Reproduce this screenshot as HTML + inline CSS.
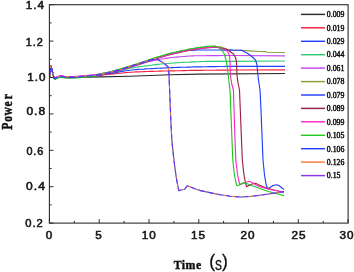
<!DOCTYPE html>
<html><head><meta charset="utf-8"><title>Power vs Time</title>
<style>html,body{margin:0;padding:0;background:#fff}svg{display:block}</style></head>
<body>
<svg width="354" height="272" viewBox="0 0 354 272">
<defs><filter id="bl" x="-5%" y="-5%" width="110%" height="110%"><feGaussianBlur stdDeviation="0.35"/></filter></defs>
<rect width="354" height="272" fill="#fff"/>
<g filter="url(#bl)">
<g>
<polyline points="50.0,77.0 50.3,70.0 50.8,66.0 51.5,68.0 52.5,72.1 54.0,78.2 55.0,78.9 57.0,77.9 59.0,77.1 61.0,76.9 64.0,77.4 70.0,77.6 75.0,77.5 80.0,77.2 88.0,77.1 100.0,76.9 130.0,76.3 170.0,74.7 200.0,74.1 285.0,73.5" fill="none" stroke="#2a2a2a" stroke-width="1.15" stroke-linejoin="round" />
<polyline points="50.0,77.0 50.3,70.0 50.8,66.0 51.5,68.0 52.5,72.1 54.0,78.2 55.0,78.8 57.0,77.8 59.0,77.0 61.0,76.8 64.0,77.3 70.0,77.5 75.0,77.4 80.0,77.1 85.0,76.6 90.0,76.0 95.0,75.4 96.3,75.3 98.0,75.2 100.1,75.1 102.4,74.9 104.9,74.7 107.5,74.5 110.0,74.3 111.8,74.1 113.7,73.9 115.6,73.7 117.6,73.5 119.7,73.3 121.8,73.1 123.8,72.8 125.9,72.6 128.0,72.5 130.0,72.3 132.0,72.2 134.0,72.0 136.0,71.9 138.0,71.8 140.0,71.8 142.0,71.7 144.0,71.6 146.0,71.5 148.0,71.5 150.0,71.4 152.0,71.3 153.8,71.3 155.7,71.2 157.5,71.2 159.4,71.1 161.3,71.1 163.3,71.0 165.4,71.0 167.6,71.0 170.0,70.9 171.7,70.9 173.4,70.8 175.2,70.8 177.0,70.7 178.9,70.7 180.8,70.7 182.8,70.6 184.8,70.6 186.8,70.5 188.9,70.5 191.0,70.4 193.2,70.4 195.4,70.4 197.7,70.3 200.0,70.3 201.8,70.3 203.8,70.3 205.8,70.2 208.0,70.2 210.2,70.2 212.5,70.2 214.9,70.2 217.2,70.1 219.5,70.1 221.9,70.1 224.2,70.1 226.4,70.1 228.6,70.1 230.6,70.1 232.6,70.0 234.4,70.0 236.1,70.0 237.6,70.0 238.9,70.0 240.0,70.0 285.0,69.9" fill="none" stroke="#f5203f" stroke-width="1.15" stroke-linejoin="round" />
<polyline points="50.0,77.0 50.3,70.0 50.8,66.0 51.5,68.0 52.5,72.0 54.0,78.1 55.0,78.7 57.0,77.6 59.0,76.8 61.0,76.6 64.0,77.1 70.0,77.3 75.0,77.2 80.0,76.9 85.0,76.4 90.0,75.9 95.0,75.3 96.3,75.1 98.0,75.0 100.1,74.8 102.4,74.5 104.9,74.3 107.5,73.9 110.0,73.6 111.8,73.3 113.7,73.0 115.6,72.6 117.6,72.3 119.7,71.9 121.8,71.5 123.8,71.1 125.9,70.8 128.0,70.5 130.0,70.2 132.0,70.0 134.0,69.8 136.0,69.6 138.0,69.4 140.0,69.3 142.0,69.2 144.0,69.1 146.0,68.9 148.0,68.8 150.0,68.7 152.0,68.6 153.8,68.5 155.7,68.4 157.5,68.3 159.4,68.2 161.3,68.1 163.3,68.0 165.4,67.9 167.6,67.8 170.0,67.7 171.7,67.6 173.5,67.6 175.4,67.5 177.3,67.4 179.3,67.4 181.3,67.3 183.3,67.2 185.4,67.2 187.5,67.1 189.6,67.1 191.7,67.0 193.8,66.9 195.9,66.9 198.0,66.8 200.0,66.8 202.1,66.8 204.2,66.7 206.5,66.7 208.8,66.6 211.1,66.6 213.4,66.6 215.7,66.6 218.0,66.5 220.2,66.5 222.2,66.5 224.2,66.5 225.9,66.4 227.5,66.4 228.9,66.4 230.0,66.4 285.0,66.3" fill="none" stroke="#2040ff" stroke-width="1.15" stroke-linejoin="round" />
<polyline points="50.0,77.0 50.3,70.0 50.8,66.0 51.5,68.0 52.5,72.2 54.0,78.4 55.0,79.2 57.0,78.2 59.0,77.4 61.0,77.2 64.0,77.7 70.0,77.9 75.0,77.8 80.0,77.5 85.0,76.9 90.0,76.4 95.0,75.7 96.3,75.5 98.0,75.2 100.1,74.8 102.4,74.4 104.9,74.0 107.5,73.5 110.0,73.0 111.8,72.6 113.7,72.2 115.6,71.7 117.6,71.2 119.7,70.7 121.8,70.2 123.8,69.6 125.9,69.2 128.0,68.7 130.0,68.3 132.0,67.9 134.0,67.6 136.0,67.2 138.0,66.9 140.0,66.6 142.0,66.3 144.0,66.1 146.0,65.8 148.0,65.6 150.0,65.3 152.0,65.1 153.8,64.8 155.7,64.6 157.5,64.4 159.4,64.2 161.3,64.0 163.3,63.8 165.4,63.7 167.6,63.5 170.0,63.3 171.7,63.2 173.5,63.0 175.4,62.9 177.3,62.8 179.3,62.7 181.3,62.5 183.3,62.4 185.4,62.3 187.5,62.2 189.6,62.1 191.7,61.9 193.8,61.8 195.9,61.8 198.0,61.7 200.0,61.6 202.1,61.5 204.2,61.5 206.5,61.4 208.8,61.4 211.1,61.4 213.4,61.4 215.7,61.3 218.0,61.3 220.2,61.3 222.2,61.3 224.2,61.3 225.9,61.3 227.5,61.3 228.9,61.3 230.0,61.3 285.0,61.0" fill="none" stroke="#2ec878" stroke-width="1.15" stroke-linejoin="round" />
<polyline points="50.0,77.0 50.3,70.0 50.8,66.0 51.5,68.0 52.5,71.8 54.0,77.6 55.0,78.0 57.0,76.8 59.0,76.0 61.0,75.8 64.0,76.3 70.0,76.5 75.0,76.4 80.0,76.1 85.0,75.7 90.0,75.2 95.0,74.7 96.3,74.5 98.0,74.2 100.1,73.8 102.4,73.4 104.9,72.9 107.5,72.4 110.0,71.8 111.8,71.4 113.7,70.9 115.6,70.4 117.6,69.8 119.7,69.2 121.8,68.7 123.8,68.1 125.9,67.5 128.0,66.9 130.0,66.4 132.0,65.9 134.0,65.3 136.0,64.8 138.0,64.3 140.0,63.7 142.0,63.2 144.0,62.7 146.0,62.2 148.0,61.7 150.0,61.3 152.0,60.9 154.0,60.5 156.0,60.1 158.0,59.7 160.0,59.3 162.0,59.0 164.0,58.7 166.0,58.4 168.0,58.1 170.0,57.8 172.0,57.5 174.2,57.3 176.3,57.1 178.5,56.9 180.6,56.7 182.7,56.5 184.7,56.4 186.6,56.2 188.4,56.1 190.0,56.0 192.3,55.8 193.8,55.8 195.0,55.7 196.9,55.7 200.0,55.7 201.5,55.7 203.2,55.7 205.2,55.7 207.3,55.6 209.6,55.6 212.0,55.6 214.4,55.6 216.8,55.6 219.2,55.6 221.5,55.5 223.6,55.5 225.6,55.5 227.3,55.5 228.8,55.5 230.0,55.5 285.0,55.9" fill="none" stroke="#c845f8" stroke-width="1.15" stroke-linejoin="round" />
<polyline points="50.0,77.0 50.3,70.0 50.8,66.0 51.5,68.0 52.5,72.1 54.0,78.1 55.0,78.8 57.0,77.7 59.0,76.9 61.0,76.7 64.0,77.2 70.0,77.4 75.0,77.3 80.0,77.0 85.0,76.5 90.0,76.0 95.0,75.3 98.0,74.4 101.0,74.0 104.0,73.3 107.0,72.7 110.0,72.0 113.0,71.2 116.0,70.4 119.0,69.6 122.0,68.7 125.0,67.8 128.0,66.8 131.0,65.9 134.0,64.9 137.0,64.0 140.0,63.0 143.0,62.0 146.0,61.0 149.0,60.0 152.0,59.1 155.0,58.1 158.0,57.1 161.0,56.2 164.0,55.3 167.0,54.4 170.0,53.5 173.0,52.8 176.0,52.2 179.0,51.5 182.0,50.8 185.0,50.2 188.0,49.5 191.0,49.0 194.0,48.5 197.0,48.0 200.0,47.6 203.0,47.2 206.0,46.8 209.0,46.6 212.0,46.4 215.0,46.2 215.0,46.3 220.0,46.9 224.0,48.0 228.0,49.8 234.0,50.3 241.5,50.4 250.0,50.9 260.0,51.5 265.5,51.6 267.0,52.3 283.0,52.5 285.0,53.0" fill="none" stroke="#8a9c3a" stroke-width="1.15" stroke-linejoin="round" />
<polyline points="50.0,77.0 50.3,70.0 50.8,66.0 51.5,68.0 52.5,72.0 54.0,77.9 55.0,78.5 57.0,77.4 59.0,76.6 61.0,76.4 64.0,76.9 70.0,77.1 75.0,77.0 80.0,76.7 85.0,76.2 90.0,75.7 95.0,75.1 98.0,74.9 101.0,74.5 104.0,73.8 107.0,73.2 110.0,72.5 113.0,71.7 116.0,70.9 119.0,70.1 122.0,69.2 125.0,68.2 128.0,67.3 131.0,66.4 134.0,65.4 137.0,64.5 140.0,63.5 143.0,62.5 146.0,61.5 149.0,60.5 152.0,59.6 155.0,58.6 158.0,57.6 161.0,56.7 164.0,55.8 167.0,54.9 170.0,54.0 173.0,53.3 176.0,52.7 179.0,52.0 182.0,51.3 184.0,50.9 185.5,50.7 187.7,50.5 190.0,50.3 192.0,50.2 194.2,50.1 197.0,50.0 198.8,50.0 200.7,50.0 202.8,50.0 205.1,50.0 207.5,50.0 210.0,50.0 211.8,50.0 213.8,50.0 215.8,50.0 217.9,50.0 220.0,50.0 222.1,50.1 224.2,50.1 226.2,50.1 228.0,50.1 230.7,50.1 233.3,50.2 235.9,50.2 238.2,50.2 240.1,50.3 241.5,50.3 245.0,52.0 248.6,54.0 253.0,57.5 255.7,60.3 257.0,65.0 257.7,73.5 258.8,82.0 260.0,90.0 261.0,110.0 262.0,135.0 263.0,160.0 264.5,175.0 266.0,184.0 267.4,188.7 270.0,187.5 273.0,185.5 276.3,184.7 279.0,185.5 282.0,188.0 284.0,189.6" fill="none" stroke="#2040ff" stroke-width="1.15" stroke-linejoin="round" />
<polyline points="50.0,77.0 50.3,70.0 50.8,66.0 51.5,68.0 52.5,72.1 54.0,78.2 55.0,78.9 57.0,77.9 59.0,77.1 61.0,76.9 64.0,77.4 70.0,77.6 75.0,77.5 80.0,77.2 85.0,76.7 90.0,76.1 95.0,75.5 98.0,75.5 101.0,75.1 104.0,74.4 107.0,73.8 110.0,73.1 113.0,72.3 116.0,71.5 119.0,70.7 122.0,69.8 125.0,68.8 128.0,67.9 131.0,67.0 134.0,66.0 137.0,65.1 140.0,64.1 143.0,63.1 146.0,62.1 149.0,61.1 152.0,60.2 155.0,59.2 158.0,58.2 161.0,57.3 164.0,56.4 167.0,55.5 170.0,54.6 173.0,53.9 176.0,53.3 179.0,52.6 182.0,51.9 185.0,51.3 188.0,50.6 191.0,50.1 194.0,49.6 197.0,49.1 200.0,48.7 203.0,48.3 206.0,47.9 209.0,47.7 212.0,47.5 215.0,47.3 215.0,47.3 221.0,48.0 226.0,49.0 230.0,51.5 233.4,54.0 235.5,57.5 236.4,61.0 237.0,75.5 238.2,84.0 239.5,90.0 240.5,115.0 241.5,140.0 242.3,160.0 244.0,175.0 245.5,183.0 246.7,186.7 249.0,185.5 252.0,184.0 255.6,183.3 259.0,185.0 265.0,187.5 272.0,189.5 278.0,191.0 284.0,192.0" fill="none" stroke="#9a2440" stroke-width="1.15" stroke-linejoin="round" />
<polyline points="50.0,77.0 50.3,70.0 50.8,66.0 51.5,68.0 52.5,71.9 54.0,77.8 55.0,78.3 57.0,77.1 59.0,76.3 61.0,76.1 64.0,76.6 70.0,76.8 75.0,76.7 80.0,76.4 85.0,75.9 90.0,75.5 95.0,74.9 98.0,75.2 101.0,74.8 104.0,74.1 107.0,73.5 110.0,72.8 113.0,72.0 116.0,71.2 119.0,70.4 122.0,69.5 125.0,68.5 128.0,67.6 131.0,66.7 134.0,65.7 137.0,64.8 140.0,63.8 143.0,62.8 146.0,61.8 149.0,60.8 152.0,59.9 155.0,58.9 158.0,57.9 161.0,57.0 164.0,56.1 167.0,55.2 170.0,54.3 173.0,53.6 176.0,53.0 179.0,52.3 182.0,51.6 185.0,51.0 188.0,50.3 191.0,49.8 194.0,49.3 197.0,48.8 200.0,48.4 203.0,48.0 206.0,47.6 209.0,47.4 212.0,47.2 215.0,47.0 215.0,47.0 220.0,48.0 226.0,50.0 228.0,52.5 229.4,55.0 230.0,62.0 230.4,75.5 231.8,84.0 233.4,90.0 234.2,115.0 235.0,140.0 235.8,160.0 237.5,174.0 238.8,181.0 239.8,184.7 242.0,184.0 245.0,182.5 249.6,181.3 252.0,182.5 256.0,185.0 262.0,187.5 270.0,189.5 278.0,191.0 284.0,192.3" fill="none" stroke="#ff28c8" stroke-width="1.15" stroke-linejoin="round" />
<polyline points="50.0,77.0 50.3,70.0 50.8,66.0 51.5,68.0 52.5,72.2 54.0,78.5 55.0,79.2 57.0,78.3 59.0,77.5 61.0,77.3 64.0,77.8 70.0,78.0 75.0,77.9 80.0,77.6 85.0,77.0 90.0,76.4 95.0,75.8 98.0,74.2 101.0,73.8 104.0,73.1 107.0,72.5 110.0,71.8 113.0,71.0 116.0,70.2 119.0,69.4 122.0,68.5 125.0,67.5 128.0,66.6 131.0,65.7 134.0,64.7 137.0,63.8 140.0,62.8 143.0,61.8 146.0,60.8 149.0,59.8 152.0,58.9 155.0,57.9 158.0,56.9 161.0,56.0 164.0,55.1 167.0,54.2 170.0,53.3 173.0,52.6 176.0,52.0 179.0,51.3 182.0,50.6 185.0,50.0 188.0,49.3 191.0,48.8 194.0,48.3 197.0,47.8 200.0,47.4 203.0,47.0 206.0,46.6 209.0,46.4 212.0,46.2 215.0,46.0 215.0,46.0 219.0,47.3 222.0,50.5 224.3,54.0 226.3,61.0 227.3,68.0 228.3,75.5 229.2,84.0 230.0,90.0 231.0,115.0 232.0,140.0 232.8,160.0 234.3,174.0 235.6,181.0 236.8,185.7 239.0,185.0 241.5,183.5 243.7,182.7 246.0,183.3 249.6,184.7 256.0,187.0 264.0,190.0 272.0,192.5 278.0,194.0 284.0,195.6" fill="none" stroke="#22c822" stroke-width="1.15" stroke-linejoin="round" />
<polyline points="50.0,77.0 50.3,70.0 50.8,66.0 51.5,68.0 52.5,72.0 54.0,78.0 55.0,78.6 57.0,77.5 59.0,76.7 61.0,76.5 64.0,77.0 70.0,77.2 75.0,77.1 80.0,76.8 85.0,76.3 90.0,75.8 95.0,75.2 98.0,74.9 101.0,74.5 104.0,73.8 107.0,73.2 110.0,72.5 113.0,71.7 116.0,70.9 119.0,70.1 122.0,69.2 125.0,68.2 128.0,67.3 131.0,66.4 134.0,65.4 137.0,64.5 140.0,63.5 143.0,62.5 146.0,61.5 149.0,60.5 152.0,59.6 155.0,58.6 158.3,60.0 162.0,62.0 165.0,64.3 168.2,66.7 169.0,75.0 169.6,90.0 170.0,100.0 170.8,120.0 171.8,140.0 173.9,160.0 175.5,172.0 177.0,182.0 178.8,190.6 181.0,190.0 184.8,189.2 186.0,187.3 187.3,185.7 190.0,186.7 195.0,188.8 200.6,190.6 210.0,192.6 220.0,194.7 230.0,196.2 240.0,197.0 250.0,196.5 260.0,195.2 270.0,193.8 278.0,192.6 284.0,191.6" fill="none" stroke="#2040ff" stroke-width="1.15" stroke-linejoin="round" />
<polyline points="50.0,77.0 50.3,70.0 50.8,66.0 51.5,68.0 52.5,71.9 54.0,77.8 55.0,78.4 57.0,77.2 59.0,76.4 61.0,76.2 64.0,76.7 70.0,76.9 75.0,76.8 80.0,76.5 85.0,76.0 90.0,75.6 95.0,75.0 98.0,74.7 101.0,74.3 104.0,73.6 107.0,73.0 110.0,72.3 113.0,71.5 116.0,70.7 119.0,69.9 122.0,69.0 125.0,68.0 128.0,67.1 131.0,66.2 134.0,65.2 137.0,64.3 140.0,63.3 143.0,62.3 146.0,61.3 149.0,60.3 152.0,59.4 155.0,58.4 158.3,59.8 162.0,62.0 165.0,64.3 168.2,66.7 169.0,75.0 169.6,90.0 170.0,100.0 170.8,120.0 171.8,140.0 173.9,160.0 175.5,172.0 177.0,182.0 178.8,190.6 181.0,190.0 184.8,189.2 186.0,187.3 187.3,185.7 190.0,186.7 195.0,188.8 200.6,190.6 210.0,192.6 220.0,194.7 230.0,196.2 240.0,197.0 250.0,196.5 260.0,195.2 270.0,193.8 278.0,192.6 284.0,191.6" fill="none" stroke="#ff7a45" stroke-width="1.15" stroke-linejoin="round" stroke-dasharray="3 6"/>
<polyline points="50.0,77.0 50.3,70.0 50.8,66.0 51.5,68.0 52.5,71.8 54.0,77.6 55.0,78.1 57.0,76.9 59.0,76.1 61.0,75.9 64.0,76.4 70.0,76.6 75.0,76.5 80.0,76.2 85.0,75.8 90.0,75.3 95.0,74.8 98.0,74.5 101.0,74.1 104.0,73.4 107.0,72.8 110.0,72.1 113.0,71.3 116.0,70.5 119.0,69.7 122.0,68.8 125.0,67.8 128.0,66.9 131.0,66.0 134.0,65.0 137.0,64.1 140.0,63.1 143.0,62.1 146.0,61.1 149.0,60.1 152.0,59.2 155.0,58.2 158.3,59.6 162.0,62.0 165.0,64.3 168.2,66.7 169.0,75.0 169.6,90.0 170.0,100.0 170.8,120.0 171.8,140.0 173.9,160.0 175.5,172.0 177.0,182.0 178.8,190.6 181.0,190.0 184.8,189.2 186.0,187.3 187.3,185.7 190.0,186.7 195.0,188.8 200.6,190.6 210.0,192.6 220.0,194.7 230.0,196.2 240.0,197.0 250.0,196.5 260.0,195.2 270.0,193.8 278.0,192.6 284.0,191.6" fill="none" stroke="#8a35e0" stroke-width="1.15" stroke-linejoin="round" stroke-dasharray="3 6" stroke-dashoffset="5"/>
</g>
<rect x="49.4" y="4.7" width="298.7" height="218.4" fill="none" stroke="#2b2b2b" stroke-width="1.1"/>
<path d="M49.4,223.1v-4 M74.3,223.1v-2.2 M99.2,223.1v-4 M124.1,223.1v-2.2 M149.0,223.1v-4 M173.9,223.1v-2.2 M198.8,223.1v-4 M223.6,223.1v-2.2 M248.5,223.1v-4 M273.4,223.1v-2.2 M298.3,223.1v-4 M323.2,223.1v-2.2 M348.1,223.1v-4 M49.4,223.1h4 M49.4,204.9h2.2 M49.4,186.7h4 M49.4,168.5h2.2 M49.4,150.3h4 M49.4,132.1h2.2 M49.4,113.9h4 M49.4,95.7h2.2 M49.4,77.5h4 M49.4,59.3h2.2 M49.4,41.1h4 M49.4,22.9h2.2 M49.4,4.7h4" stroke="#2b2b2b" stroke-width="1" fill="none"/>
<g font-family="'Liberation Sans', sans-serif" font-size="10.0" fill="#1a1a1a" stroke="#1a1a1a" stroke-width="0.55" letter-spacing="0.85">
<text transform="translate(25.3,227.1) scale(1.122,1)">0.2</text>
<text transform="translate(26.1,189.9) scale(1.204,1)">0.4</text>
<text transform="translate(26.4,154.9) scale(1.087,1)">0.6</text>
<text transform="translate(26.4,115.4) scale(1.204,1)">0.8</text>
<text transform="translate(27.3,81.4) scale(1.163,1)">1.0</text>
<text transform="translate(25.8,45.9) scale(1.087,1)">1.2</text>
<text transform="translate(25.8,9.2) scale(1.170,1)">1.4</text>
<text transform="translate(49.4,239.2) scale(1.17,1)" text-anchor="middle">0</text>
<text transform="translate(98.9,239.2) scale(1.17,1)" text-anchor="middle">5</text>
<text transform="translate(149.2,239.2) scale(1.17,1)" text-anchor="middle">10</text>
<text transform="translate(198.5,239.2) scale(1.17,1)" text-anchor="middle">15</text>
<text transform="translate(247.9,239.2) scale(1.17,1)" text-anchor="middle">20</text>
<text transform="translate(298.9,239.2) scale(1.17,1)" text-anchor="middle">25</text>
<text transform="translate(347.0,239.2) scale(1.17,1)" text-anchor="middle">30</text>
</g>
<g font-family="'Liberation Serif', serif" font-weight="bold" fill="#111" stroke="#111" stroke-width="0.45" text-anchor="middle">
<text transform="translate(11.6,130.3) rotate(-90) scale(0.78,1)" font-size="14.8" x="5.1 14.6 24.2 33.7 43.1">Power</text>
<text transform="translate(173.7,268.6) scale(0.90,1)" font-size="13.1" text-anchor="start" letter-spacing="0.55">Time</text>
</g>
<text fill="#111" stroke="#111" stroke-width="0.3" font-family="'Liberation Sans', sans-serif" font-size="17.5"><tspan x="209.3" y="266.9">(</tspan><tspan x="214.9" y="269.7" font-family="'Liberation Mono', monospace" font-size="14.5" textLength="7" lengthAdjust="spacingAndGlyphs">S</tspan><tspan x="222.1" y="266.9">)</tspan></text>
<g font-family="'Liberation Serif', serif" font-size="7.8" fill="#111" stroke="#111" stroke-width="0.45">
<path d="M301,14.4H325" stroke="#2a2a2a" stroke-width="1.45"/>
<text x="326.8" y="17.1">0.009</text>
<path d="M301,27.8H325" stroke="#f5203f" stroke-width="1.45"/>
<text x="326.8" y="30.6">0.019</text>
<path d="M301,41.3H325" stroke="#2040ff" stroke-width="1.45"/>
<text x="326.8" y="44.0">0.029</text>
<path d="M301,54.7H325" stroke="#2ec878" stroke-width="1.45"/>
<text x="326.8" y="57.4">0.044</text>
<path d="M301,68.1H325" stroke="#c845f8" stroke-width="1.45"/>
<text x="326.8" y="70.9">0.061</text>
<path d="M301,81.6H325" stroke="#8a9c3a" stroke-width="1.45"/>
<text x="326.8" y="84.3">0.078</text>
<path d="M301,95.0H325" stroke="#2040ff" stroke-width="1.45"/>
<text x="326.8" y="97.7">0.079</text>
<path d="M301,108.4H325" stroke="#9a2440" stroke-width="1.45"/>
<text x="326.8" y="111.2">0.089</text>
<path d="M301,121.8H325" stroke="#ff28c8" stroke-width="1.45"/>
<text x="326.8" y="124.6">0.099</text>
<path d="M301,135.3H325" stroke="#22c822" stroke-width="1.45"/>
<text x="326.8" y="138.0">0.105</text>
<path d="M301,148.7H325" stroke="#2040ff" stroke-width="1.45"/>
<text x="326.8" y="151.5">0.106</text>
<path d="M301,162.1H325" stroke="#ff7a45" stroke-width="1.45"/>
<text x="326.8" y="164.9">0.126</text>
<path d="M301,175.6H325" stroke="#8a35e0" stroke-width="1.45"/>
<text x="326.8" y="178.3">0.15</text>
</g>
</g>
</svg>
</body></html>
